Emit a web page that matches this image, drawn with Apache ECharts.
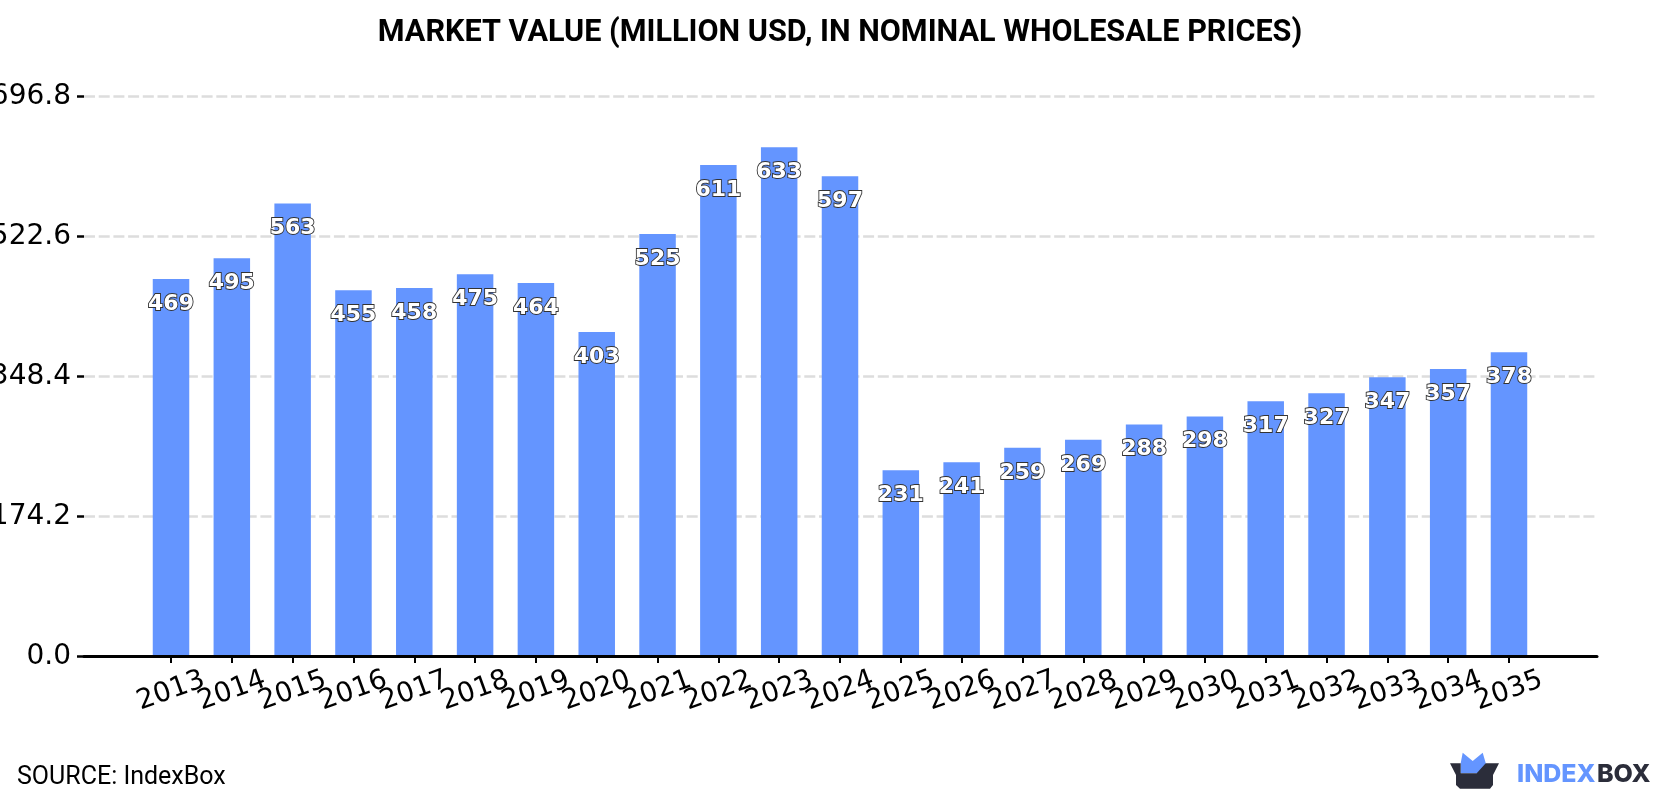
<!DOCTYPE html>
<html>
<head>
<meta charset="utf-8">
<style>html,body{margin:0;padding:0;background:#fff}#chart{width:1680px;height:800px}</style>
<script src="https://cdn.jsdelivr.net/npm/echarts@6/dist/echarts.min.js"></script>
</head>
<body>
<div id="chart"></div>
<script>
const years = ['2013','2014','2015','2016','2017','2018','2019','2020','2021','2022','2023','2024','2025','2026','2027','2028','2029','2030','2031','2032','2033','2034','2035'];
const marketValue = [469,495,563,455,458,475,464,403,525,611,633,597,231,241,259,269,288,298,317,327,347,357,378];
const valueTicks = { min: 0, max: 696.8, interval: 174.2 };
const titleText = 'MARKET VALUE (MILLION USD, IN NOMINAL WHOLESALE PRICES)';
const sourceText = 'SOURCE: IndexBox';

const chart = echarts.init(document.getElementById('chart'), null, { renderer: 'canvas' });
chart.setOption({
  animation: false,
  backgroundColor: '#ffffff',
  title: {
    text: titleText, left: 'center', top: 13,
    textStyle: { fontFamily: 'Roboto', fontWeight: 'bold', fontSize: 30.6, color: '#000' }
  },
  // Outer grid carries the long baseline and the value scale; inner grid holds the bars.
  grid: [
    { left: 84, right: 83, top: 96.5, bottom: 143.5, outerBoundsMode: 'none' },
    { left: 140.6, right: 140.6, top: 96, bottom: 144, outerBoundsMode: 'none' }
  ],
  xAxis: [
    {
      type: 'category', gridIndex: 0, data: [''], z: 5,
      axisLine: { show: true, lineStyle: { color: '#000', width: 3 } },
      axisTick: { show: false }, axisLabel: { show: false }, splitLine: { show: false }
    },
    {
      type: 'category', gridIndex: 1, data: years, z: 5,
      axisLine: { show: false },
      axisTick: { show: true, alignWithLabel: true, length: 7, lineStyle: { color: '#000', width: 2 } },
      axisLabel: {
        interval: 0, rotate: 20, align: 'center', verticalAlign: 'middle', margin: 35,
        fontFamily: 'DejaVu Sans', fontSize: 27.5, color: '#000'
      }
    }
  ],
  yAxis: [
    {
      type: 'value', gridIndex: 0,
      min: valueTicks.min, max: valueTicks.max, interval: valueTicks.interval,
      axisLine: { show: false },
      axisTick: { show: true, length: 7, lineStyle: { color: '#000', width: 2.5 } },
      axisLabel: {
        margin: 13, padding: [7, 0, 0, 0], fontFamily: 'DejaVu Sans', fontSize: 28, color: '#000',
        formatter: v => v.toFixed(1)
      },
      splitLine: { show: true, lineStyle: { color: '#dddddd', width: 2.5, type: [11, 3.7] } }
    },
    {
      type: 'value', gridIndex: 1,
      min: valueTicks.min, max: valueTicks.max, interval: valueTicks.interval,
      axisLine: { show: false }, axisTick: { show: false },
      axisLabel: { show: false }, splitLine: { show: false }
    }
  ],
  series: [{
    type: 'bar', xAxisIndex: 1, yAxisIndex: 1,
    data: marketValue,
    barWidth: 36.5,
    itemStyle: { color: '#6495ff' },
    label: {
      show: true, position: 'insideTop', distance: 14,
      fontFamily: 'DejaVu Sans', fontWeight: 'bold', fontSize: 22,
      color: '#fff', textBorderColor: '#333', textBorderWidth: 1.8
    }
  }],
  graphic: [
    { type: 'text', left: 17, top: 765,
      style: { text: sourceText, fontFamily: 'Roboto', fontSize: 25, fill: '#000' } },
    // IndexBox logo: blue crown inside a dark open box
    { type: 'polygon', shape: { points: [[1460.7,763],[1462.7,752.7],[1472.7,761],[1482.7,752.7],[1485.7,763],[1485.7,773.3],[1460.7,773.3]] },
      style: { fill: '#6495ff' } },
    { type: 'polygon', shape: { points: [[1450,763.3],[1460.7,763.3],[1460.7,773.3],[1476.7,773.3],[1485.7,763.3],[1499,763.3],[1493,775],[1493,785],[1490,788.7],[1460,788.7],[1456,785],[1456,775]] },
      style: { fill: '#2b2d3a' } },
    { type: 'text', left: 1517, top: 761.5,
      style: { text: 'INDEX', fontFamily: 'Inter', fontWeight: 800, fontSize: 25, fill: '#6495ff' } },
    { type: 'text', left: 1597, top: 761.5,
      style: { text: 'BOX', fontFamily: 'Inter', fontWeight: 800, fontSize: 25, fill: '#2b2d3a' } }
  ]
});
</script>
</body>
</html>
